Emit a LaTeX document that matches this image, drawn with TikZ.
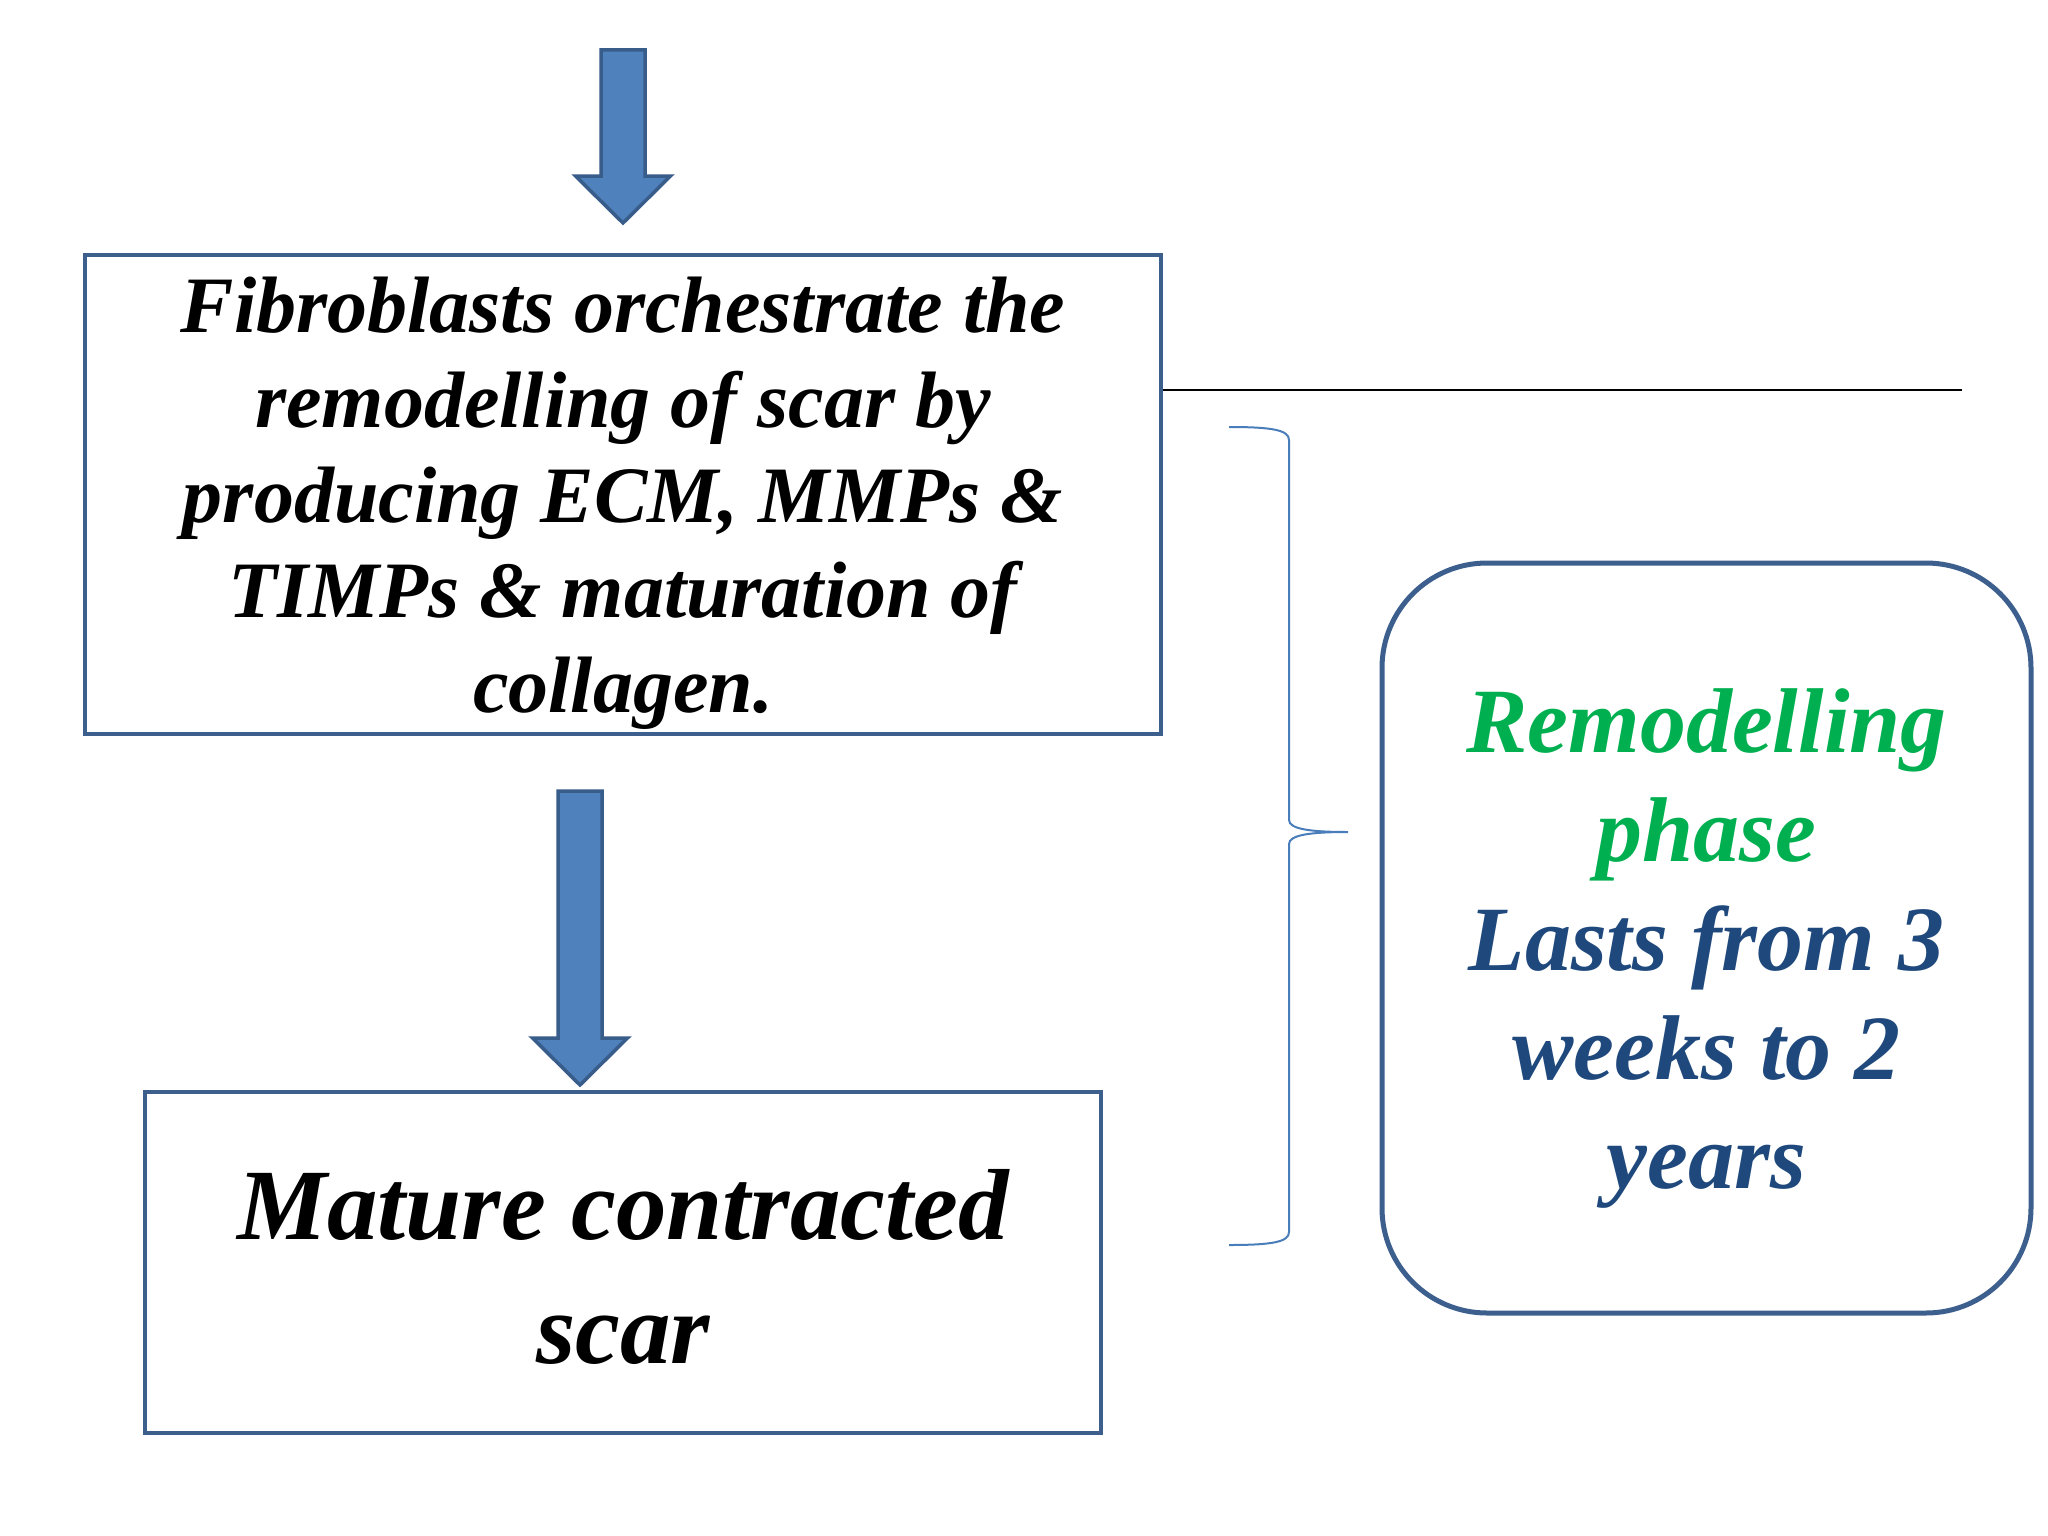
\documentclass[tikz,border=0pt]{standalone}
\usepackage{fontspec}
\setmainfont{Liberation Serif}
\usepackage{xcolor}
\usetikzlibrary{calc, positioning}

\definecolor{boxedge}{HTML}{3C5F8E}
\definecolor{arrowfill}{HTML}{4F81BD}
\definecolor{arrowedge}{HTML}{385D8A}
\definecolor{bracecol}{HTML}{4A7EBB}
\definecolor{phasegreen}{HTML}{00B050}
\definecolor{phaseblue}{HTML}{1F497D}

\tikzset{
  stagebox/.style={draw=boxedge, line width=4pt, fill=white, inner sep=0pt},
  phasebox/.style={stagebox, line width=5pt, rounded corners=105pt},
  boxtext/.style={align=center, inner sep=0pt},
  blockarrow/.style={draw=arrowedge, fill=arrowfill, line width=3.5pt, line join=miter},
}

% block arrow pointing down: #1 = top of shaft, #2 = tip
\newcommand{\fatarrow}[2]{%
  \draw[blockarrow] ($(#1)+(-22,0)$) -- ($(#1)+(22,0)$) -- ($(#2)+(22,-47)$) --
    ($(#2)+(47.5,-47)$) -- (#2) -- ($(#2)+(-47.5,-47)$) -- ($(#2)+(-22,-47)$) -- cycle;
}

\begin{document}
\begin{tikzpicture}[x=1pt, y=-1pt]
  \useasboundingbox[fill=white] (0,0) rectangle (2048,1536);

  % Boxes
  \node[stagebox, minimum width=1076pt, minimum height=479pt] (fib) at (623,494.5) {};
  \node[stagebox, minimum width=956pt, minimum height=341pt] (scar) at (623,1262.5) {};
  \node[phasebox, minimum width=649pt, minimum height=750pt] (phase) at (1706.5,938) {};

  % Box texts
  \node[boxtext, font=\bfseries\itshape\fontsize{80}{95}\selectfont, yshift=-9pt]
    (fibtext) at (fib.center)
    {Fibroblasts orchestrate the\\
     remodelling of scar by\\
     producing ECM, MMPs \&\\
     TIMPs \& maturation of\\
     collagen.};
  \node[boxtext, font=\bfseries\itshape\fontsize{101}{124}\selectfont, yshift=-4pt]
    (scartext) at (scar.center)
    {Mature contracted\\ scar};
  \node[boxtext, font=\bfseries\itshape\fontsize{92}{109}\selectfont, yshift=-10pt]
    (phasetext) at (phase.center)
    {\color{phasegreen}Remodelling\\
     \color{phasegreen}phase\\
     \color{phaseblue}Lasts from 3\\
     \color{phaseblue}weeks to 2\\
     \color{phaseblue}years};

  % Arrows
  \coordinate (a1top) at (623,50);
  \coordinate (a1tip) at (623,223);
  \fatarrow{a1top}{a1tip}
  \coordinate (a2top) at (580,791);
  \coordinate (a2tip) at (580,1085);
  \fatarrow{a2top}{a2tip}

  % Line from box
  \coordinate (lineend) at (1962,390);
  \draw[line width=2.5pt] (fib.east |- lineend) -- (lineend);

  % Brace
  \coordinate (bracetip) at (1348,832);
  \draw[bracecol, line width=2pt]
    (1229,427) .. controls (1272,427) and (1289,430) .. (1289,440) -- (1289,820)
    .. controls (1289,829) and (1310,832) .. (bracetip)
    .. controls (1310,832) and (1289,835) .. (1289,844) -- (1289,1232)
    .. controls (1289,1242) and (1272,1245) .. (1229,1245);
\end{tikzpicture}
\end{document}
